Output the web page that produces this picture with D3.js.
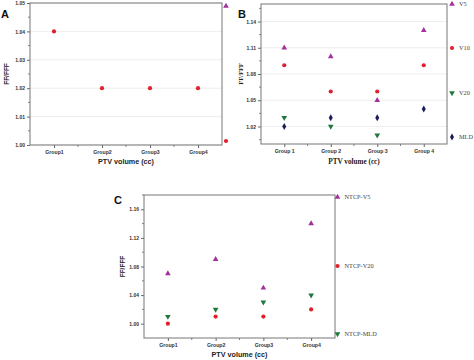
<!DOCTYPE html>
<html><head><meta charset="utf-8">
<script src="https://cdn.jsdelivr.net/npm/d3@7"></script>
<style>body{margin:0;background:#fff}svg{display:block}</style>
</head><body>
<svg id="c" width="474" height="360"></svg>
<script>
// ---------- data ----------
const groupsA = ["Group1", "Group2", "Group3", "Group4"];
const aValues = [1.04, 1.02, 1.02, 1.02];
const yTicksA = [1.00, 1.01, 1.02, 1.03, 1.04, 1.05];

const groupsB = ["Group 1", "Group 2", "Group 3", "Group 4"];
const bV5 = [1.11, 1.10, 1.05, 1.13];
const bV10 = [1.09, 1.06, 1.06, 1.09];
const bV20 = [1.03, 1.02, 1.01, null];
const bMLD = [1.02, 1.03, 1.03, 1.04];
const yTicksB = [1.02, 1.05, 1.08, 1.11, 1.14];
const legendB = ["V5", "V10", "V20", "MLD"];

const groupsC = ["Group1", "Group2", "Group3", "Group4"];
const cV5 = [1.07, 1.09, 1.05, 1.14];
const cV20 = [1.00, 1.01, 1.01, 1.02];
const cMLD = [1.01, 1.02, 1.03, 1.04];
const yTicksC = [1.00, 1.04, 1.08, 1.12, 1.16];
const legendC = ["NTCP-V5", "NTCP-V20", "NTCP-MLD"];

const xTitle = "PTV volume (cc)";
const yTitle = "FF/FFF";

// ---------- styles ----------
const COL = {tri: "#a3309b", circ: "#e0202e", down: "#1e7a3c", dia: "#1c1c5c"};
const svg = d3.select("#c");
const SANS = "'Liberation Sans', Arial, sans-serif";
const SERIF = "'Liberation Serif', 'Times New Roman', serif";

function marker(g, shape, x, y) {
  let sym, rot = 0, size = 14;
  if (shape === "tri") { sym = d3.symbolTriangle; }
  else if (shape === "down") { sym = d3.symbolTriangle; rot = 180; }
  else if (shape === "dia") { sym = d3.symbolDiamond; }
  else { sym = d3.symbolCircle; }
  g.append("path")
    .attr("d", d3.symbol().type(sym).size(size)())
    .attr("transform", `translate(${x},${y}) rotate(${rot})`)
    .attr("fill", COL[shape]);
}

function panel(cfg) {
  const g = svg.append("g");
  const x = d3.scalePoint().domain(cfg.groups).range([cfg.x0, cfg.x1]).padding(0.5);
  const y = d3.scaleLinear().domain(cfg.domain).range([cfg.y1, cfg.y0]);
  const step = x.step();

  if (cfg.grid) {
    g.selectAll(".grid").data(cfg.ticks).join("line")
      .attr("x1", cfg.x0).attr("x2", cfg.x1)
      .attr("y1", d => y(d)).attr("y2", d => y(d))
      .attr("stroke", "#e6e6e6").attr("stroke-width", 0.7);
  }

  const yAxis = d3.axisLeft(y).tickValues(cfg.ticks).tickFormat(d3.format(".2f")).tickSize(3).tickPadding(2);
  const ya = g.append("g").attr("transform", `translate(${cfg.x0},0)`).call(yAxis);
  ya.select(".domain").remove();
  ya.selectAll("line").attr("stroke", "#666");
  ya.selectAll("text").attr("font-family", SANS).attr("font-size", 5).attr("font-weight", "bold").attr("fill", "#333");
  g.selectAll(".ymin").data(cfg.minor).join("line")
    .attr("x1", cfg.x0 - 2).attr("x2", cfg.x0)
    .attr("y1", d => y(d)).attr("y2", d => y(d))
    .attr("stroke", "#666").attr("stroke-width", 0.8);

  const xAxis = d3.axisBottom(x).tickSize(3).tickPadding(2);
  const xa = g.append("g").attr("transform", `translate(0,${cfg.y1})`).call(xAxis);
  xa.select(".domain").remove();
  xa.selectAll("line").attr("stroke", "#666");
  xa.selectAll("text").attr("font-family", SANS).attr("font-size", 5.2).attr("font-weight", "bold").attr("fill", "#333");
  const mids = cfg.groups.slice(1).map((gname) => x(gname) - step / 2);
  g.selectAll(".xmin").data(mids).join("line")
    .attr("x1", d => d).attr("x2", d => d)
    .attr("y1", cfg.y1).attr("y2", cfg.y1 + 2)
    .attr("stroke", "#666").attr("stroke-width", 0.8);

  g.append("rect").attr("x", cfg.x0).attr("y", cfg.y0)
    .attr("width", cfg.x1 - cfg.x0).attr("height", cfg.y1 - cfg.y0)
    .attr("fill", "none").attr("stroke", "#777").attr("stroke-width", 1);

  cfg.series.forEach(s => {
    s.values.forEach((v, i) => {
      if (v == null) return;
      marker(g, s.shape, x(cfg.groups[i]), y(v));
    });
  });

  cfg.legend.forEach(l => {
    marker(g, l.shape, cfg.legX, l.y);
    if (l.label) {
      g.append("text").attr("x", cfg.legX + 7).attr("y", l.y + 2.2)
        .attr("font-family", SERIF).attr("font-size", 6.3).attr("fill", "#444").text(l.label);
    }
  });

  const cx = (cfg.x0 + cfg.x1) / 2;
  g.append("text").attr("x", cx).attr("y", cfg.y1 + cfg.xTitleOff).attr("text-anchor", "middle")
    .attr("font-family", cfg.titleFont).attr("font-weight", "bold").attr("font-size", 7.2).attr("fill", "#222")
    .text(xTitle);
  g.append("text").attr("transform", `translate(${cfg.yTitleX},${(cfg.y0 + cfg.y1) / 2}) rotate(-90)`)
    .attr("text-anchor", "middle")
    .attr("font-family", cfg.titleFont).attr("font-weight", "bold").attr("font-size", 6.5).attr("fill", "#222")
    .text(yTitle);
  g.append("text").attr("x", cfg.letter[0]).attr("y", cfg.letter[1])
    .attr("font-family", SANS).attr("font-weight", "bold").attr("font-size", 11).attr("fill", "#111")
    .text(cfg.letterText);
}

panel({
  groups: groupsA, domain: [1.00, 1.05], ticks: yTicksA,
  minor: yTicksA.slice(0, -1).map(t => t + 0.005),
  x0: 30, x1: 222, y0: 3, y1: 145, grid: true,
  series: [{shape: "circ", values: aValues}],
  legX: 226, legend: [{shape: "tri", y: 6}, {shape: "circ", y: 141}],
  titleFont: SANS, yTitleX: 9, xTitleOff: 19, letter: [1, 18], letterText: "A"
});

panel({
  groups: groupsB, domain: [1.00, 1.16], ticks: yTicksB,
  minor: [1.005, 1.035, 1.065, 1.095, 1.125, 1.155],
  x0: 261, x1: 447, y0: 4, y1: 144, grid: true,
  series: [
    {shape: "tri", values: bV5},
    {shape: "circ", values: bV10},
    {shape: "down", values: bV20},
    {shape: "dia", values: bMLD}
  ],
  legX: 452, legend: [
    {shape: "tri", y: 4, label: legendB[0]},
    {shape: "circ", y: 48, label: legendB[1]},
    {shape: "down", y: 93, label: legendB[2]},
    {shape: "dia", y: 137, label: legendB[3]}
  ],
  titleFont: SERIF, yTitleX: 243, xTitleOff: 20, letter: [238, 18], letterText: "B"
});

panel({
  groups: groupsC, domain: [0.98, 1.18], ticks: yTicksC,
  minor: [1.02, 1.06, 1.10, 1.14, 1.18],
  x0: 144, x1: 335, y0: 195, y1: 338, grid: false,
  series: [
    {shape: "tri", values: cV5},
    {shape: "circ", values: cV20},
    {shape: "down", values: cMLD}
  ],
  legX: 337.5, legend: [
    {shape: "tri", y: 197, label: legendC[0]},
    {shape: "circ", y: 266, label: legendC[1]},
    {shape: "down", y: 334, label: legendC[2]}
  ],
  titleFont: SANS, yTitleX: 125, xTitleOff: 19, letter: [114, 204], letterText: "C"
});
</script>
</body></html>
